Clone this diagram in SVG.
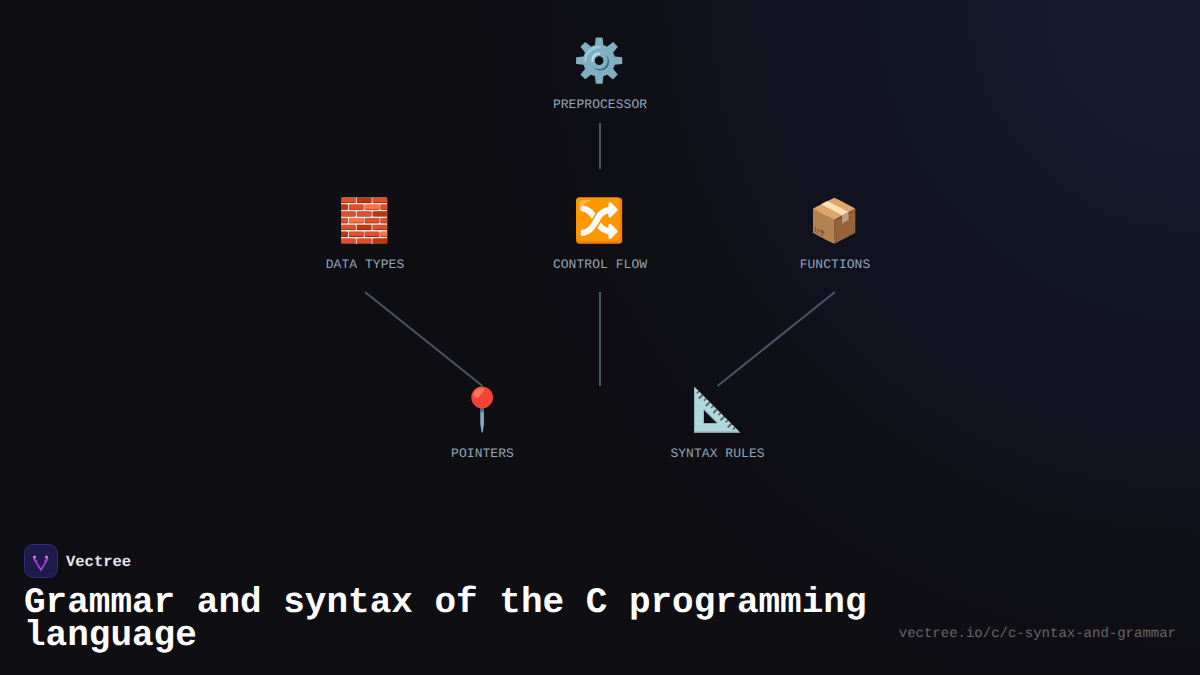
<svg xmlns="http://www.w3.org/2000/svg" width="1200" height="675" viewBox="0 0 1200 675">
<defs>
<radialGradient id="glow" gradientUnits="userSpaceOnUse" cx="1200" cy="0" r="760">
<stop offset="0" stop-color="#171930"/>
<stop offset="0.45" stop-color="#131527"/>
<stop offset="1" stop-color="#0f0f14" stop-opacity="0"/>
</radialGradient>
<filter id="paleblue" x="-10%" y="-10%" width="120%" height="120%" color-interpolation-filters="sRGB">
<feColorMatrix type="matrix" values="0.70 0 0 0 0  0.85 0 0 0 0  0.88 0 0 0 0  0 0 0 1 0"/>
</filter>
</defs>
<style>
text{text-rendering:geometricPrecision}
.lbl{font-family:"Liberation Mono",monospace;font-size:13px;letter-spacing:.05px;fill:#94a3b8;text-anchor:middle}
.ico{font-family:"Noto Color Emoji","Noto Sans",sans-serif;font-size:42px;text-anchor:middle}
.edge{stroke:#475569;stroke-width:2;fill:none}
.title{font-family:"Liberation Mono",monospace;font-size:36px;font-weight:700;fill:#fff}
</style>
<rect width="1200" height="675" fill="#0e0e13"/>
<rect width="1200" height="675" fill="url(#glow)"/>
<g id="connectors">
<line class="edge" x1="600" y1="123" x2="600" y2="169"/>
<line class="edge" x1="365" y1="292" x2="482.500" y2="386"/>
<line class="edge" x1="600" y1="292" x2="600" y2="386"/>
<line class="edge" x1="835" y1="292" x2="717.500" y2="386"/>
</g>
<g id="node-preprocessor"><text class="ico" x="600" y="75">⚙️</text><text class="lbl" x="600" y="108">PREPROCESSOR</text></g>
<g id="node-data-types"><text class="ico" x="365" y="235">🧱</text><text class="lbl" x="365" y="268">DATA TYPES</text></g>
<g id="node-control-flow"><text class="ico" x="600" y="235">🔀</text><text class="lbl" x="600" y="268">CONTROL FLOW</text></g>
<g id="node-functions"><text class="ico" x="835" y="235">📦</text><text class="lbl" x="835" y="268">FUNCTIONS</text></g>
<g id="node-pointers"><text class="ico" x="482.500" y="424">📍</text><text class="lbl" x="482.500" y="457">POINTERS</text></g>
<g id="node-syntax-rules"><text class="ico" x="717.500" y="424" filter="url(#paleblue)">📐</text><text class="lbl" x="717.500" y="457">SYNTAX RULES</text></g>
<g id="brand">
<rect x="24.500" y="544.500" width="33" height="33" rx="9" fill="#1e1b4b" stroke="#312e81"/>
<path d="M34 559L41 570L47.500 559M34 559L36.500 561M47.500 559L45 561" fill="none" stroke="#a33bd1" stroke-width="1.800" stroke-linecap="round" stroke-linejoin="round"/>
<circle cx="34.500" cy="557" r="1.600" fill="#d07ae8"/>
<circle cx="46.500" cy="557" r="1.600" fill="#d07ae8"/>
<text x="66" y="565.500" font-family="Liberation Mono, monospace" font-size="15.500" font-weight="700" fill="#e5e7eb">Vectree</text>
</g>
<text class="title" x="24" y="612">Grammar and syntax of the C programming</text>
<text class="title" x="24" y="645">language</text>
<text x="1176" y="637" text-anchor="end" font-family="Liberation Mono, monospace" font-size="14" fill="#666">vectree.io/c/c-syntax-and-grammar</text>
</svg>
